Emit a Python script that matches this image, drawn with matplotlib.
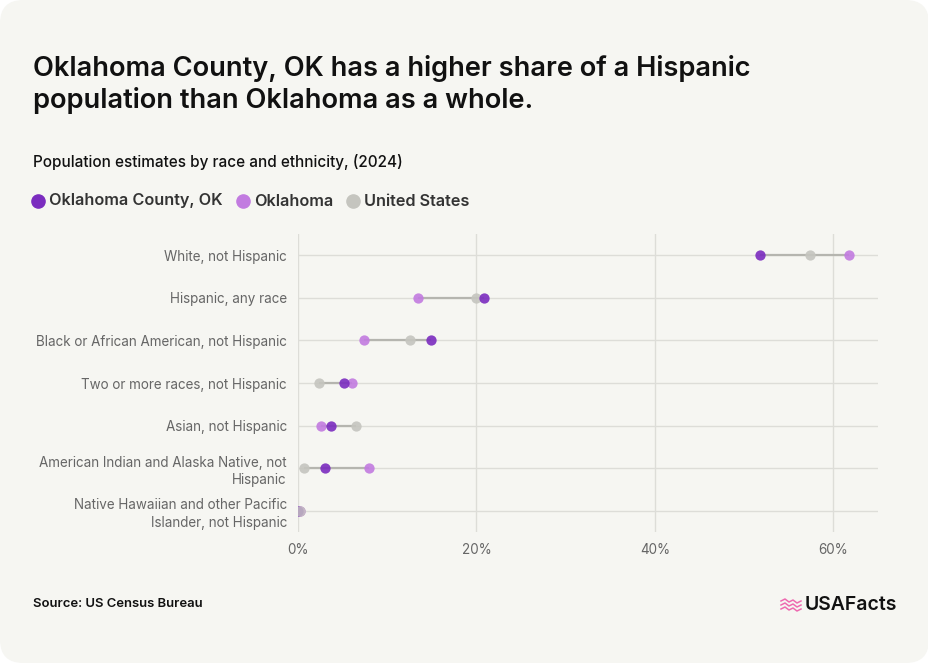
import numpy as np
import matplotlib.pyplot as plt
from matplotlib.patches import FancyBboxPatch
from matplotlib.lines import Line2D

plt.rcParams['font.family'] = ['Inter', 'DejaVu Sans']

# data, shares in percent
categories = ['White, not Hispanic', 'Hispanic, any race',
              'Black or African American, not Hispanic',
              'Two or more races, not Hispanic', 'Asian, not Hispanic',
              'American Indian and Alaska Native, not\nHispanic',
              'Native Hawaiian and other Pacific\nIslander, not Hispanic']
county = [51.8, 20.9, 14.9, 5.1, 3.7, 3.0, 0.05]
state = [61.8, 13.4, 7.4, 6.1, 2.6, 8.0, 0.2]
usa = [57.4, 20.0, 12.6, 2.4, 6.5, 0.65, 0.2]
series_names = ['Oklahoma County, OK', 'Oklahoma', 'United States']
xticks = [0, 20, 40, 60]

c_county = '#7B2CBF'
c_state = '#C27BE0'
c_us = '#C5C5BF'
bg = '#F6F6F2'

fig = plt.figure(figsize=(9.29, 6.63), dpi=100)
fig.patch.set_facecolor('white')
card = FancyBboxPatch((0, 0), 1, 1, boxstyle='round,pad=0,rounding_size=0.025',
                      transform=fig.transFigure, facecolor=bg, edgecolor='none',
                      mutation_aspect=929 / 663, zorder=-10)
fig.patches.append(card)

W, H = 929, 663
def fx(px): return px / W
def fy(py): return 1 - py / H

fig.text(fx(33), fy(68), 'Oklahoma County, OK has a higher share of a Hispanic',
         fontsize=19.6, fontweight='semibold', color='#111111', va='center')
fig.text(fx(33), fy(101), 'population than Oklahoma as a whole.',
         fontsize=19.6, fontweight='semibold', color='#111111', va='center')
fig.text(fx(33), fy(162), 'Population estimates by race and ethnicity, (2024)',
         fontsize=11, fontweight='medium', color='#111111', va='center')

# legend row
lx = [38, 243, 353]
for x, name, c in zip(lx, series_names, [c_county, c_state, c_us]):
    fig.add_artist(Line2D([fx(x)], [fy(201)], marker='o', markersize=9.5,
                          color=c, linestyle='none', transform=fig.transFigure))
    fig.text(fx(x + 11), fy(201), name, fontsize=11.7, fontweight='semibold',
             color='#333333', va='center')

ax = fig.add_axes([fx(298), fy(532), fx(878) - fx(298), fy(234) - fy(532)])
ax.set_facecolor(bg)
y = np.arange(len(categories))
lo = np.minimum(np.minimum(county, state), usa)
hi = np.maximum(np.maximum(county, state), usa)
ax.hlines(y, lo, hi, color='#B5B5AF', linewidth=1.6, zorder=2)
ax.scatter(state, y, s=55, color=c_state, zorder=4, linewidths=0, alpha=0.9)
ax.scatter(usa, y, s=55, color=c_us, zorder=3, linewidths=0, alpha=0.9)
ax.scatter(county, y, s=55, color=c_county, zorder=5, linewidths=0, alpha=0.9)
# the tiny bottom row: grey on top, as in the source
ax.scatter(usa[-1:], y[-1:], s=55, color=c_us, zorder=6, linewidths=0, alpha=0.8)

ax.set_xlim(0, 65)
ax.set_ylim(6.5, -0.5)
ax.set_xticks(xticks)
ax.set_xticklabels([f'{t}%' for t in xticks])
ax.set_yticks(y)
ax.set_yticklabels(categories, linespacing=1.3, multialignment='right')
ax.tick_params(axis='both', length=0, labelsize=9.7, labelcolor='#666666')
ax.tick_params(axis='x', pad=8)
ax.tick_params(axis='y', pad=8)
ax.grid(True, color='#DDDDD8', linewidth=1)
ax.set_axisbelow(True)
for s in ax.spines.values():
    s.set_visible(False)

fig.text(fx(33), fy(604), 'Source: US Census Bureau', fontsize=9.4,
         fontweight='semibold', color='#111111', va='center')

# logo
fig.text(fx(897), fy(605), 'USAFacts', fontsize=14, fontweight='semibold',
         color='#111111', va='center', ha='right')
for dy in (-4, 0, 4):
    xs = np.linspace(781, 801, 6)
    ys = 605 + dy + np.array([0, -2, 1, -1, 2, 0])
    fig.add_artist(Line2D(fx(xs), fy(ys), color='#EE6AB0', linewidth=1.1,
                          transform=fig.transFigure))

fig.savefig('out.png', dpi=100, facecolor='white')
